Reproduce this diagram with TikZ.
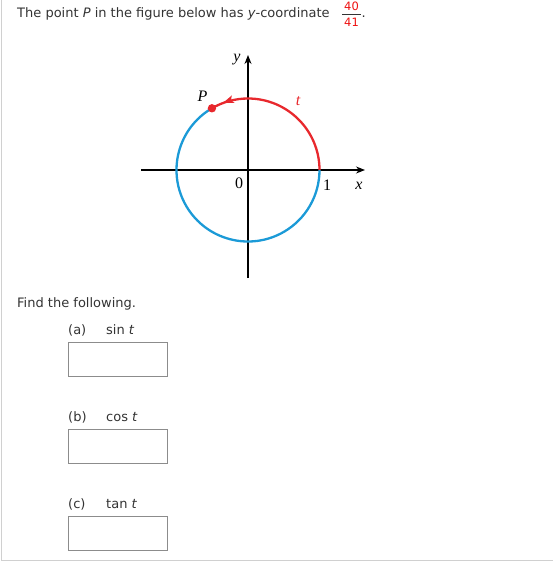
\documentclass[tikz,border=0pt]{standalone}
\usepackage{fontspec}
\setmainfont{DejaVu Sans}
\newfontfamily\figfont{Liberation Serif}
\usetikzlibrary{arrows.meta,positioning}
\definecolor{txtgray}{HTML}{333333}
\definecolor{boxgray}{HTML}{8C8C8C}
\definecolor{framegray}{HTML}{D0D0D0}
\definecolor{arcblue}{HTML}{1B9AD7}
\definecolor{arcred}{HTML}{E8282D}
\definecolor{fracred}{HTML}{EE1111}
\tikzset{
    answerbox/.style={draw=boxgray, line width=1pt, minimum width=99pt, minimum height=34pt, inner sep=0pt, anchor=north west},
    figlabel/.style={font=\figfont\fontsize{16}{18}\selectfont, text=black, inner sep=0pt},
    axis/.style={line width=1.2pt, -{Stealth[length=9pt,width=7pt]}}
}
\begin{document}
\begin{tikzpicture}[x=1pt,y=-1pt, font=\fontsize{13}{16}\selectfont, text=txtgray]
        \useasboundingbox (0,0) rectangle (553,567);
        % Draw frame
        \draw [framegray, line width=1pt] (1.5,0) -- (1.5,560) -- (553,560);
        % Draw question
        \node [anchor=base west, inner sep=0pt] (question) at (17,17.5) {The point \textit{P} in the figure below has \textit{y}-coordinate};
        \node [inner sep=0pt, text=fracred, font=\fontsize{11.5}{12}\selectfont] (num) at (351.5,6) {40};
        \node [inner sep=0pt, text=fracred, font=\fontsize{11.5}{12}\selectfont] (den) at (351.5,22.5) {41};
        \draw [txtgray, line width=0.8pt] (342,14) -- (361,14);
        \node [anchor=base west, inner sep=0pt] (dot) at (361.5,17.5) {.};
        % Draw figure
        \begin{scope}[shift={(248,170)}, yscale=-1]
            \coordinate (o) at (0,0);
            \coordinate (xl) at (-107,0);
            \coordinate (xr) at (117,0);
            \coordinate (yb) at (0,-108);
            \coordinate (yt) at (0,115);
            \draw [axis] (xl) -- (xr);
            \draw [axis] (yb) -- (yt);
            % Draw circle
            \draw [arcblue, line width=2.3pt] (120.3:71.5) arc (120.3:360:71.5);
            \draw [arcred, line width=2.3pt] (0:71.5) arc (0:120.3:71.5);
            \fill [arcred] (-25.1,67.0) -- (-13.4,67.1) -- (-17.0,69.8) -- (-16.2,74.6) -- cycle;
            \fill [arcred] (120.3:71.5) circle (4.2);
            \coordinate (p) at (120.3:71.5);
            % Labels
            \node [figlabel] (ylab) at (-11,110) {\itshape y};
            \node [figlabel] (plab) at (-45.5,73.5) {\itshape P};
            \node [figlabel, text=arcred] (tlab) at (50,69) {\itshape t};
            \node [figlabel] (zero) at (-9,-13.5) {0};
            \node [figlabel] (one) at (79,-15) {1};
            \node [figlabel] (xlab) at (111,-16) {\itshape x};
        \end{scope}
        % Draw questions
        \node [anchor=base west, inner sep=0pt] (find) at (17,307) {Find the following.};
        \foreach \lab/\fn/\y/\name in {a/sin/334/sa, b/cos/421/sb, c/tan/508/sc} {
            \node [anchor=base west, inner sep=0pt] (\name lab) at (68,\y) {(\lab)};
            \node [anchor=base west, inner sep=0pt] (\name fn) at (106,\y) {\fn\ \textit{t}};
            \node [answerbox] (\name box) at (68.3,\y+8.3) {};
        }
    \end{tikzpicture}
\end{document}
